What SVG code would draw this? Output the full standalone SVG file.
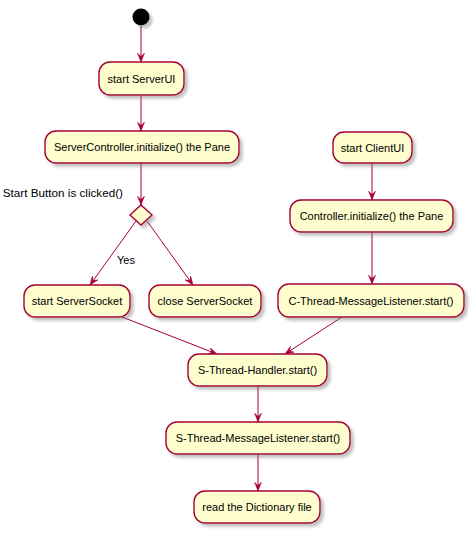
<svg xmlns="http://www.w3.org/2000/svg" width="474" height="533" viewBox="0 0 474 533">
<style>
.node rect, .node polygon { fill: #FEFECE; stroke: #A80036; stroke-width: 1.4; filter: url(#sh); }
.node text, .lbl { font-family: "Liberation Sans", Arial, sans-serif; font-size: 11px; fill: #000; }
.node text { text-anchor: middle; }
.edge { stroke: #A80036; stroke-width: 1; fill: none; marker-end: url(#arr); }
</style>
<defs>
<filter id="sh" x="-20%" y="-20%" width="150%" height="160%">
<feDropShadow dx="3" dy="3" stdDeviation="1.5" flood-color="#777" flood-opacity="0.45"/>
</filter>
<marker id="arr" viewBox="0 0 10 8" refX="10" refY="4" markerWidth="9" markerHeight="7.2" markerUnits="userSpaceOnUse" orient="auto">
<path d="M0,0 L10,4 L0,8 L4,4 Z" fill="#A80036" stroke="#A80036" stroke-width="0.5"/>
</marker>
</defs>
<rect width="474" height="533" fill="#fff"/>
<g id="connectors">
<line class="edge" x1="141" y1="26" x2="141" y2="62"/>
<line class="edge" x1="141" y1="95" x2="141" y2="131"/>
<line class="edge" x1="141" y1="163" x2="141" y2="205"/>
<line class="edge" x1="136" y1="221" x2="90" y2="285"/>
<line class="edge" x1="147" y1="221" x2="193" y2="285"/>
<line class="edge" x1="122" y1="317" x2="217" y2="354"/>
<line class="edge" x1="342" y1="317" x2="285" y2="354"/>
<line class="edge" x1="372" y1="163" x2="372" y2="200"/>
<line class="edge" x1="372" y1="232" x2="372" y2="284"/>
<line class="edge" x1="258" y1="386" x2="258" y2="422"/>
<line class="edge" x1="258" y1="454" x2="258" y2="491"/>
<text class="lbl" x="117" y="264">Yes</text>
</g>
<g id="start">
<circle cx="141" cy="17" r="8.5" fill="#000" filter="url(#sh)"/>
</g>
<g id="startServerUI" class="node">
<rect x="99" y="62" width="85" height="33" rx="11"/>
<text x="141.5" y="82.5">start ServerUI</text>
</g>
<g id="serverController" class="node">
<rect x="45" y="131" width="194" height="32" rx="11"/>
<text x="142" y="151">ServerController.initialize() the Pane</text>
</g>
<g id="decision" class="node">
<polygon points="141,205 152,215 141,225 130,215"/>
<text x="123" y="197" style="text-anchor:end;font-size:11.7px">Start Button is clicked()</text>
</g>
<g id="startServerSocket" class="node">
<rect x="24" y="285" width="106" height="32" rx="11"/>
<text x="77" y="305">start ServerSocket</text>
</g>
<g id="closeServerSocket" class="node">
<rect x="149" y="285" width="112" height="32" rx="11"/>
<text x="205" y="305">close ServerSocket</text>
</g>
<g id="startClientUI" class="node">
<rect x="333" y="132" width="79" height="31" rx="11"/>
<text x="372.5" y="151.5">start ClientUI</text>
</g>
<g id="controllerInit" class="node">
<rect x="290" y="200" width="163" height="32" rx="11"/>
<text x="371.5" y="220">Controller.initialize() the Pane</text>
</g>
<g id="cThread" class="node">
<rect x="278" y="284" width="186" height="33" rx="11"/>
<text x="371" y="304.5">C-Thread-MessageListener.start()</text>
</g>
<g id="sThreadHandler" class="node">
<rect x="188" y="354" width="139" height="32" rx="11"/>
<text x="257.5" y="374">S-Thread-Handler.start()</text>
</g>
<g id="sThreadListener" class="node">
<rect x="166" y="422" width="184" height="32" rx="11"/>
<text x="258" y="442">S-Thread-MessageListener.start()</text>
</g>
<g id="readDictionary" class="node">
<rect x="194" y="491" width="126" height="32" rx="11"/>
<text x="257" y="511">read the Dictionary file</text>
</g>
</svg>
